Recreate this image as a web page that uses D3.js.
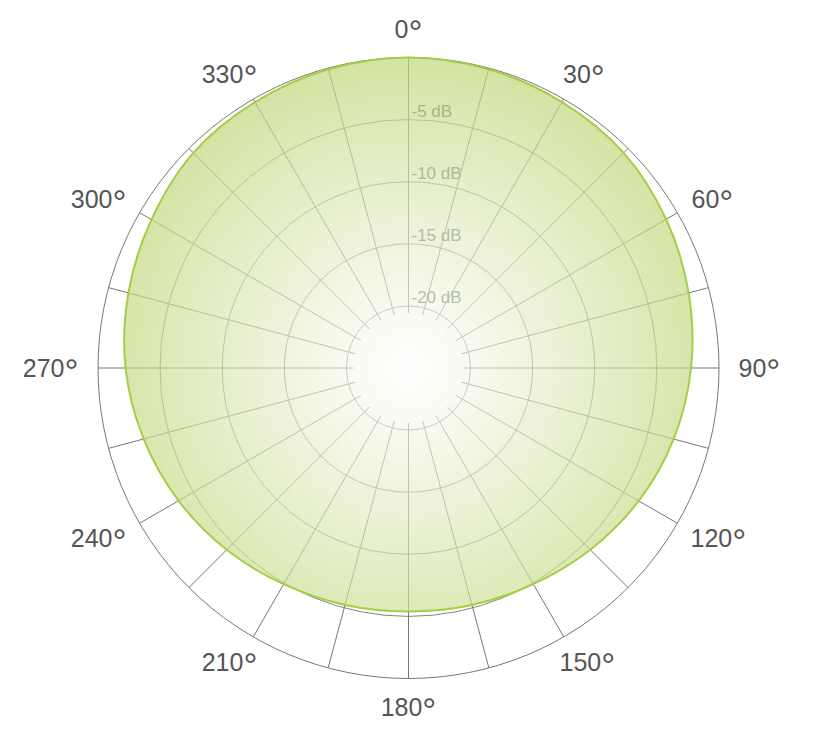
<!DOCTYPE html>
<html>
<head>
<meta charset="utf-8">
<script src="https://cdn.jsdelivr.net/npm/d3@7"></script>
<style>
  body { margin: 0; background: #fff; }
  svg { display: block; }
</style>
</head>
<body>
<svg id="chart"></svg>
<script>
// pattern, every 15 degrees
const angles = [0, 15, 30, 45, 60, 75, 90, 105, 120, 135, 150, 165,
                180, 195, 210, 225, 240, 255, 270, 285, 300, 315, 330, 345];
const levels = [0, -0.1, -0.28, -0.5, -1.05, -1.65, -2.25, -2.9, -3.6, -4.3, -4.9, -5.25,
                -5.4, -5.25, -4.9, -4.3, -3.62, -2.92, -2.22, -1.65, -1.1, -0.5, -0.28, -0.1];

const ringValues = [-20, -15, -10, -5];
const ringLabels = ["-20 dB", "-15 dB", "-10 dB", "-5 dB"];

const spokeAngles = d3.range(0, 360, 15);
const labelAngles = [0, 30, 60, 90, 120, 150, 180, 210, 240, 270, 300, 330];
const angleLabels = ["0", "30", "60", "90", "120", "150", "180", "210", "240", "270", "300", "330"];

const width = 816;
const height = 738;
const cx = 408.5;
const cy = 368;
const outer = 310.5;

const svg = d3.select("#chart")
    .attr("width", width)
    .attr("height", height);

// radial dB scale, angle scale in radians
const rScale = d3.scaleLinear().domain([-25, 0]).range([0, outer]);
const aScale = d3.scaleLinear().domain([0, 360]).range([0, 2 * Math.PI]);

const defs = svg.append("defs");
const grad = defs.append("radialGradient")
    .attr("id", "fillGrad")
    .attr("gradientUnits", "userSpaceOnUse")
    .attr("cx", 0).attr("cy", 0).attr("r", outer);
grad.append("stop").attr("offset", "0%").attr("stop-color", "#ffffff").attr("stop-opacity", 0.6);
grad.append("stop").attr("offset", "100%").attr("stop-color", "rgb(192,215,122)").attr("stop-opacity", 0.7);

const g = svg.append("g").attr("transform", `translate(${cx},${cy})`);

// rings
g.selectAll("circle.ring")
    .data(ringValues)
    .enter()
    .append("circle")
    .attr("class", "ring")
    .attr("r", d => rScale(d))
    .attr("fill", "none")
    .attr("stroke", "#858585")
    .attr("stroke-width", 1);

// spokes
const innerR = rScale(-20) - 7;
g.selectAll("line.spoke")
    .data(spokeAngles)
    .enter()
    .append("line")
    .attr("class", "spoke")
    .attr("x1", d => innerR * Math.sin(aScale(d)))
    .attr("y1", d => -innerR * Math.cos(aScale(d)))
    .attr("x2", d => outer * Math.sin(aScale(d)))
    .attr("y2", d => -outer * Math.cos(aScale(d)))
    .attr("stroke", "#777")
    .attr("stroke-width", 1);

// dB labels
g.selectAll("text.db")
    .data(ringValues)
    .enter()
    .append("text")
    .attr("class", "db")
    .attr("x", 3)
    .attr("y", d => -rScale(d) - 3)
    .attr("font-family", "'Liberation Sans', Arial, sans-serif")
    .attr("font-size", 17)
    .attr("fill", "#5e5e5e")
    .text((d, i) => ringLabels[i]);

// outer circle
g.append("circle")
    .attr("r", outer)
    .attr("fill", "none")
    .attr("stroke", "#777")
    .attr("stroke-width", 1);

// pattern
const pts = angles.map((a, i) => [aScale(a), rScale(levels[i])]);
const radial = d3.lineRadial()
    .angle(d => d[0])
    .radius(d => d[1])
    .curve(d3.curveCatmullRomClosed.alpha(0.5));

g.append("path")
    .attr("d", radial(pts))
    .attr("fill", "url(#fillGrad)")
    .attr("stroke", "#a3cf45")
    .attr("stroke-width", 2);

// angle labels
const labelR = 330;
const angleText = g.selectAll("text.angle")
    .data(labelAngles)
    .enter()
    .append("text")
    .attr("class", "angle")
    .attr("font-family", "'Liberation Sans', Arial, sans-serif")
    .attr("font-size", 25)
    .attr("fill", "#555")
    .attr("text-anchor", "middle");

angleText.append("tspan").text((d, i) => angleLabels[i]);
angleText.append("tspan")
    .attr("font-size", 35)
    .attr("dy", 7)
    .text("°");

angleText.each(function (d) {
    const t = aScale(d);
    const w = this.getComputedTextLength();
    const px = labelR * Math.sin(t);
    const py = -labelR * Math.cos(t);
    d3.select(this)
        .attr("x", px + (w / 2) * Math.sin(t))
        .attr("y", py + 9 * (1 - Math.cos(t)));
});
</script>
</body>
</html>
